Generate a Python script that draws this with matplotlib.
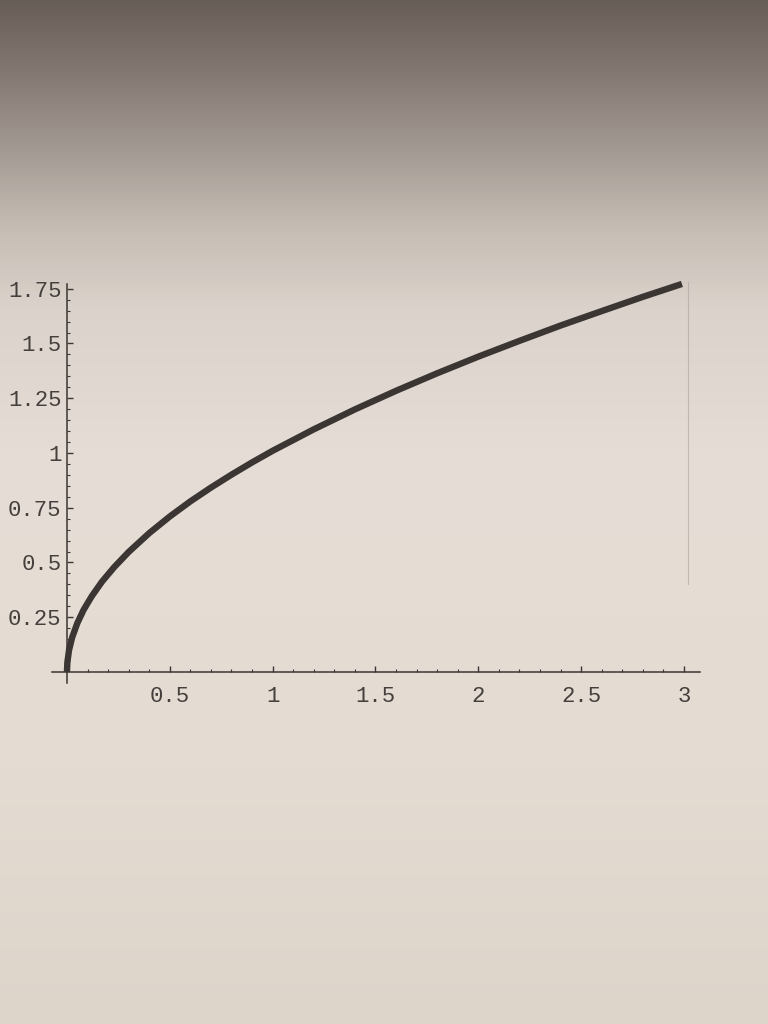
import numpy as np
import matplotlib.pyplot as plt
from matplotlib.colors import LinearSegmentedColormap

# curve
curve_x = [0.0, 0.002, 0.01, 0.025, 0.05, 0.08, 0.12, 0.17, 0.23, 0.3,
           0.4, 0.5, 0.6, 0.7, 0.8, 0.9, 1.0, 1.2, 1.4, 1.6, 1.8, 2.0,
           2.2, 2.4, 2.6, 2.8, 2.99]
curve_y = [0.0, 0.044, 0.099, 0.157, 0.222, 0.282, 0.345, 0.412, 0.479,
           0.548, 0.634, 0.710, 0.779, 0.842, 0.901, 0.957, 1.010, 1.108,
           1.199, 1.284, 1.364, 1.440, 1.512, 1.582, 1.648, 1.713, 1.772]

x_ticks = [0.5, 1, 1.5, 2, 2.5, 3]
x_labels = ["0.5", "1", "1.5", "2", "2.5", "3"]
y_ticks = [0.25, 0.5, 0.75, 1, 1.25, 1.5, 1.75]
y_labels = ["0.25", "0.5", "0.75", "1", "1.25", "1.5", "1.75"]

ink = "#3b3633"

fig = plt.figure(figsize=(7.68, 10.24), dpi=100)

# paper background, darker towards the top of the photo
bg = fig.add_axes([0, 0, 1, 1], zorder=-1)
paper = LinearSegmentedColormap.from_list("paper", [
    (0.00, "#685e58"), (0.06, "#7f756e"), (0.15, "#a59c95"),
    (0.22, "#c5bcb4"), (0.30, "#dbd3cb"), (0.45, "#e6ded6"),
    (0.75, "#e4dbd2"), (1.00, "#ddd4ca")])
bg.imshow(np.linspace(0, 1, 512).reshape(-1, 1), cmap=paper,
          aspect="auto", extent=[0, 1, 0, 1])
bg.set_axis_off()

ax = fig.add_axes([0.0604, 0.3224, 0.857, 0.417])
ax.patch.set_alpha(0)
ax.set_xlim(-0.1, 3.1)
ax.set_ylim(-0.1, 1.85)

ax.plot(curve_x, curve_y, color=ink, lw=4.6, solid_capstyle="butt",
        solid_joinstyle="round")

# faint pencil mark on the right edge of the plot
ax.plot([3.02, 3.02], [0.4, 1.78], color="#aaa29b", lw=0.8, alpha=0.6)

for side in ["top", "right"]:
    ax.spines[side].set_visible(False)
ax.spines["left"].set_position(("data", 0))
ax.spines["bottom"].set_position(("data", 0))
ax.spines["left"].set_bounds(-0.05, 1.77)
ax.spines["bottom"].set_bounds(-0.075, 3.08)
for side in ["left", "bottom"]:
    ax.spines[side].set_color(ink)
    ax.spines[side].set_linewidth(1.1)

ax.set_xticks(x_ticks)
ax.set_xticklabels(x_labels)
ax.set_yticks(y_ticks)
ax.set_yticklabels(y_labels)
ax.set_xticks(np.arange(1, 31) / 10, minor=True)
ax.set_yticks(np.arange(1, 36) / 20, minor=True)

ax.tick_params(which="major", direction="in", length=4.5, width=1.0,
               color=ink, labelcolor="#45403d", labelsize=16)
ax.tick_params(which="minor", direction="in", length=2.2, width=0.8,
               color=ink)
ax.tick_params(axis="x", which="major", pad=10)
ax.tick_params(axis="y", which="major", pad=4)
for lab in ax.get_xticklabels() + ax.get_yticklabels():
    lab.set_family("Liberation Mono")

plt.savefig("out.png", dpi=100)
